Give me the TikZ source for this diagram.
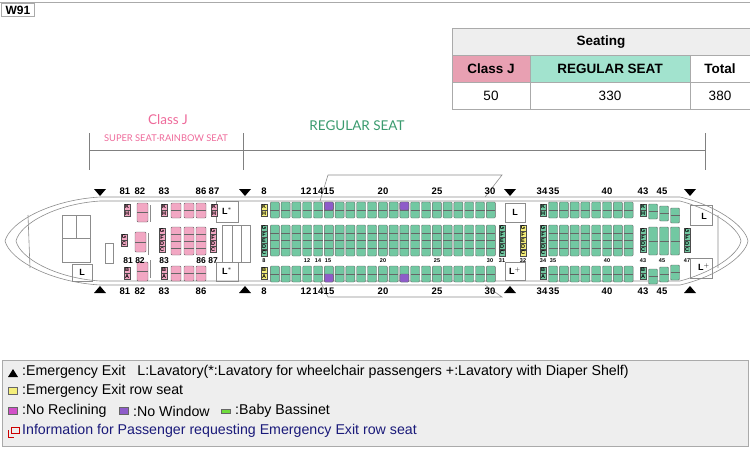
\documentclass[tikz,border=0pt]{standalone}
\usepackage{fontspec}
\setmainfont{Liberation Sans}
\newfontfamily\latofont{Lato}
\definecolor{seatg}{HTML}{72C8A2}
\definecolor{seatp}{HTML}{F2A7C3}
\definecolor{purp}{HTML}{8E5CC9}
\definecolor{yel}{HTML}{F4EE7A}
\definecolor{tpink}{HTML}{E8A0B2}
\definecolor{tgreen}{HTML}{A2E3CE}
\definecolor{lg}{HTML}{EEEEEE}
\definecolor{bordg}{HTML}{AAAAAA}
\definecolor{pinkt}{HTML}{EE6A9A}
\definecolor{greent}{HTML}{3A9A6E}
\definecolor{navy}{HTML}{1A1A7A}
\begin{document}
\begin{tikzpicture}[x=1pt,y=-1pt,
  seat/.style={draw=black!60,line width=0.4pt,rounded corners=1pt},
  lab/.style={draw=black!70,line width=0.3pt,inner sep=0pt,minimum width=6pt,minimum height=6pt,font=\fontsize{5.5}{5.5}\selectfont\bfseries},
  num/.style={font=\fontsize{9.5}{10}\selectfont\bfseries,inner sep=0pt},
  snum/.style={font=\fontsize{5.5}{5.5}\selectfont\bfseries,inner sep=0pt},
  wall/.style={draw=black!45,line width=0.6pt},
  exitm/.style={fill=black},
  tab/.style={font=\fontsize{13.5}{14}\selectfont\bfseries},
  tabn/.style={font=\fontsize{13.5}{14}\selectfont},
  lav/.style={font=\fontsize{9}{9}\selectfont\bfseries},
  leg/.style={font=\fontsize{14.2}{15}\selectfont,anchor=west,inner sep=0pt}]
\useasboundingbox (0,0) rectangle (750,448);
\draw[bordg,line width=1pt] (0,2) -- (750,2);
\node[draw=bordg,font=\fontsize{12}{12}\selectfont\bfseries,minimum width=33pt,minimum height=13pt,inner sep=0pt] (w91) at (18,10) {W91};
% table
\fill[lg] (452,28) rectangle (750,55);
\fill[tpink] (452,55) rectangle (530,82);
\fill[tgreen] (530,55) rectangle (690,82);
\draw[bordg] (452,28) rectangle (750,109) (452,55) -- (750,55) (452,82) -- (750,82)
  (530,55) -- (530,109) (690,55) -- (690,109);
\node[tab] (tseat) at (601,42) {Seating};
\node[tab] (tcj) at (491,69) {Class J};
\node[tab] (trs) at (610,69) {REGULAR SEAT};
\node[tab] (ttot) at (720,69) {Total};
\node[tabn] (t50) at (491,96) {50};
\node[tabn] (t330) at (610,96) {330};
\node[tabn] (t380) at (720,96) {380};
% section labels
\node[pinkt,font=\latofont\fontsize{13.5}{14}\selectfont] (cj) at (168,120) {Class J};
\node[pinkt,font=\latofont\fontsize{9.3}{10}\selectfont] (ss) at (166,138) {SUPER SEAT·RAINBOW SEAT};
\node[greent,font=\latofont\fontsize{13.5}{14}\selectfont] (rs) at (357,126) {REGULAR SEAT};
\draw[black!50] (89,133) -- (89,170) (243,133) -- (243,170) (705,133) -- (705,170) (89,150) -- (705,150);
% fuselage
\draw[wall] (100,197) -- (680,197) .. controls (715,205) and (745,225) .. (748,241) .. controls (745,257) and (715,277) .. (680,285) -- (100,285) .. controls (50,282) and (10,260) .. (5,241) .. controls (10,222) and (50,200) .. (100,197);
\draw[wall] (100,201) -- (680,201) .. controls (710,209) and (738,226) .. (741,241) .. controls (738,256) and (710,273) .. (680,281) -- (100,281) .. controls (55,278) and (20,258) .. (16,241) .. controls (20,224) and (55,204) .. (100,201);
\draw[wall] (28,215) -- (30,268) (718,215) -- (718,268);
% galleys / lavatories
\draw[wall] (62,215) rectangle (90,262) (62,238) -- (90,238) (76,215) -- (76,238);
\draw[wall] (105,243) rectangle (113,263) (222,225) rectangle (250,262) (232,225) -- (232,262) (241,225) -- (241,262);
\draw[wall] (505,203) rectangle (525,222) (505,262) rectangle (525,280) (216,201) rectangle (238,222) (216,262) rectangle (238,281);
\draw[wall] (72,264) rectangle (92,281) (690,205) rectangle (712,225) (690,258) rectangle (712,278);
\node[lav] (l1) at (515,212) {L};
\node[lav] (l2) at (515,271) {L$^{+}$};
\node[lav] (l3) at (227,211) {L$^{*}$};
\node[lav] (l4) at (227,271) {L$^{*}$};
\node[lav] (l5) at (82,272) {L};
\node[lav] (l6) at (704,216) {L};
\node[lav] (l7) at (704,267) {L$^{+}$};
\draw[wall] (320,201) -- (328,175) -- (502,175) -- (485,197) (320,281) -- (328,297) -- (502,297) -- (485,285);
% exits
\foreach \ex in {100,245,510,690}{
  \fill[exitm] (\ex-6,189) -- (\ex+6,189) -- (\ex,196) -- cycle;
  \fill[exitm] (\ex-6,293) -- (\ex+6,293) -- (\ex,286) -- cycle;}
% regular seats
\foreach \k in {1,...,21}{
  \pgfmathsetmacro{\xx}{264+10.8*\k}
  \draw[seat,fill=seatg] (\xx-4.5,202) rectangle (\xx+4.5,218); \draw[black!60,line width=0.3pt] (\xx-4.5,210) -- (\xx+4.5,210);
  \draw[seat,fill=seatg] (\xx-4.5,225) rectangle (\xx+4.5,256);
  \foreach \d in {232.75,240.5,248.25} \draw[black!60,line width=0.3pt] (\xx-4.5,\d) -- (\xx+4.5,\d);
  \draw[seat,fill=seatg] (\xx-4.5,266) rectangle (\xx+4.5,282); \draw[black!60,line width=0.3pt] (\xx-4.5,274) -- (\xx+4.5,274);}
\foreach \k in {6,13}{
  \pgfmathsetmacro{\xx}{264+10.8*\k}
  \draw[seat,fill=purp] (\xx-4.5,202) rectangle (\xx+4.5,210);
  \draw[seat,fill=purp] (\xx-4.5,274) rectangle (\xx+4.5,282);}
\foreach \r in {0,...,7}{
  \pgfmathsetmacro{\xx}{553+10.8*\r}
  \draw[seat,fill=seatg] (\xx-4.5,202) rectangle (\xx+4.5,218); \draw[black!60,line width=0.3pt] (\xx-4.5,210) -- (\xx+4.5,210);
  \draw[seat,fill=seatg] (\xx-4.5,225) rectangle (\xx+4.5,256);
  \foreach \d in {232.75,240.5,248.25} \draw[black!60,line width=0.3pt] (\xx-4.5,\d) -- (\xx+4.5,\d);
  \draw[seat,fill=seatg] (\xx-4.5,266) rectangle (\xx+4.5,282); \draw[black!60,line width=0.3pt] (\xx-4.5,274) -- (\xx+4.5,274);}
\foreach \xx/\yt in {653/204,664/206,675/208}{
  \draw[seat,fill=seatg] (\xx-4.5,\yt) rectangle (\xx+4.5,\yt+15); \draw[black!60,line width=0.3pt] (\xx-4.5,\yt+7.5) -- (\xx+4.5,\yt+7.5);
  \draw[seat,fill=seatg] (\xx-4.5,227) rectangle (\xx+4.5,255);
  \draw[black!60,line width=0.3pt] (\xx-4.5,241) -- (\xx+4.5,241);
  \draw[seat,fill=seatg] (\xx-4.5,488-\yt-15) rectangle (\xx+4.5,488-\yt); \draw[black!60,line width=0.3pt] (\xx-4.5,488-\yt-7.5) -- (\xx+4.5,488-\yt-7.5);}
% class J seats
\foreach \xx in {176,189,201}{
  \draw[seat,fill=seatp] (\xx-5,203) rectangle (\xx+5,218); \draw[black!60,line width=0.3pt] (\xx-5,210.5) -- (\xx+5,210.5);
  \draw[seat,fill=seatp] (\xx-5,227) rectangle (\xx+5,255);
  \foreach \d in {234,241,248} \draw[black!60,line width=0.3pt] (\xx-5,\d) -- (\xx+5,\d);
  \draw[seat,fill=seatp] (\xx-5,266) rectangle (\xx+5,281); \draw[black!60,line width=0.3pt] (\xx-5,273.5) -- (\xx+5,273.5);}
\draw[seat,fill=seatp] (137,203) rectangle (148,222); \draw[black!60] (137,212.5) -- (148,212.5);
\draw[seat,fill=seatp] (135,232) rectangle (146,252); \draw[black!60] (135,242) -- (146,242);
\draw[seat,fill=seatp] (137,262) rectangle (148,281); \draw[black!60] (137,271.5) -- (148,271.5);
\draw[wall] (150,205) -- (150,222) (150,260) -- (150,278) (148,233) -- (148,255);
% label columns
\newcommand{\labcol}[4]{%
  \foreach \L [count=\i from 0] in {#3}{\node[lab,fill=#4] (c#1-\i-#2) at (#1,#2+6.2*\i) {\L};}}
\labcol{127}{207}{K,H}{seatp}\labcol{127}{270}{B,A}{seatp}\labcol{124}{237}{G,C}{seatp}
\labcol{164}{207}{K,H}{seatp}\labcol{164}{270}{B,A}{seatp}\labcol{162}{231}{G,F,D,C}{seatp}
\labcol{214}{207}{K,H}{seatp}\labcol{213}{231}{G,F,D,C}{seatp}
\labcol{264}{207}{K,H}{yel}\labcol{264}{270}{B,A}{yel}\labcol{264}{228}{G,F,E,D,C}{seatg}
\labcol{502}{228}{G,F,E,D,C}{seatg}\labcol{523}{228}{G,F,E,D,C}{yel}
\labcol{543}{207}{K,H}{seatg}\labcol{543}{270}{B,A}{seatg}\labcol{543}{228}{G,F,E,D,C}{seatg}
\labcol{643}{207}{K,H}{seatg}\labcol{643}{270}{B,A}{seatg}\labcol{643}{231}{G,F,D,C}{seatg}
\labcol{687}{231}{G,F,D,C}{seatg}
% row numbers
\foreach \n/\xx in {81/125,82/140,83/164,86/201,87/214,8/264,12/306,14/318,15/329,20/383,25/437,30/490,34/542,35/554,40/607,43/643,45/662}
  \node[num] (top\n) at (\xx,191) {\n};
\foreach \n/\xx in {81/125,82/140,83/164,86/201,8/264,12/306,14/318,15/329,20/383,25/437,30/490,34/542,35/554,40/607,43/643,45/662}
  \node[num] (bot\n) at (\xx,291) {\n};
\foreach \n/\xx in {81/128,82/140,83/164,86/201,87/213}
  \node[font=\fontsize{8.5}{9}\selectfont\bfseries,inner sep=0pt] (mid\n) at (\xx,261) {\n};
\foreach \n/\xx in {8/264,12/307,14/318,15/328,20/383,25/437,30/490,31/502,32/523,34/543,35/553,40/607,43/643,45/662,47/687}
  \node[snum] (m\n) at (\xx,261) {\n};
% legend
\draw[bordg,fill=lg] (2,360) rectangle (748,446);
\fill[black] (8,377) -- (18,377) -- (13,369) -- cycle;
\node[leg] (lg1) at (22,372) {:Emergency Exit\ \ \ L:Lavatory(*:Lavatory for wheelchair passengers +:Lavatory with Diaper Shelf)};
\draw[black!60,fill=yel] (8,387) rectangle (17,394);
\node[leg] (lg2) at (22,391) {:Emergency Exit row seat};
\draw[black!60,fill={rgb,255:red,210;green,80;blue,200}] (8,407) rectangle (17,414);
\node[leg] (lg3) at (22,411) {:No Reclining};
\draw[black!60,fill=purp] (119,407) rectangle (128,414);
\node[leg] (lg4) at (133,411) {:No Window};
\draw[black!60,fill={rgb,255:red,110;green,220;blue,60}] (221,409) rectangle (230,413);
\node[leg] (lg5) at (235,411) {:Baby Bassinet};
\draw[red!80!black,line width=0.7pt] (11,427) rectangle (19,433) (8,430) -- (8,437) -- (14,437);
\node[leg,navy] (lg6) at (22,431) {Information for Passenger requesting Emergency Exit row seat};
\end{tikzpicture}
\end{document}
